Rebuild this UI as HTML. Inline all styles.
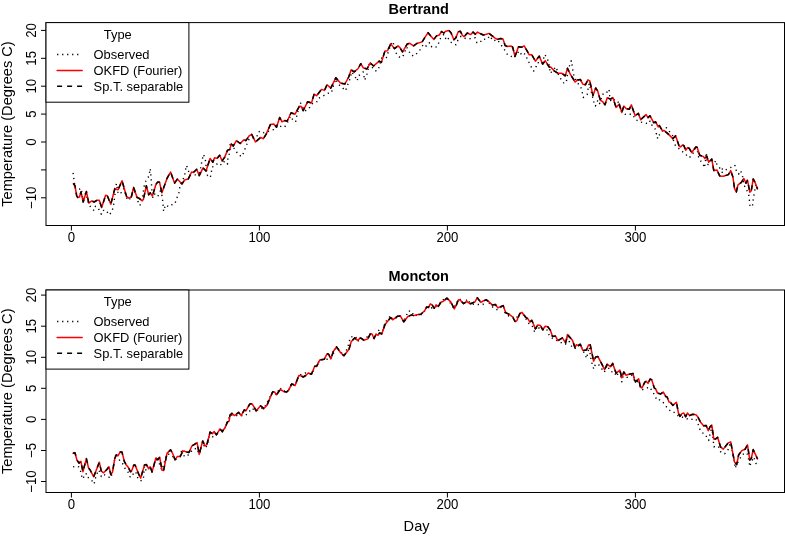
<!DOCTYPE html>
<html><head><meta charset="utf-8"><title>Temperature</title>
<style>
html,body{margin:0;padding:0;background:#fff;}
svg{display:block;font-family:"Liberation Sans",sans-serif;}
.ax{stroke:#000;stroke-width:1;fill:none;stroke-linecap:butt;}
.t{font-size:13.9px;fill:#000;}
.lab{font-size:14.6px;fill:#000;}
.ttl{font-size:14.5px;font-weight:bold;fill:#000;}
.lg{font-size:12.9px;fill:#000;}
.obs{stroke:#000;stroke-width:1.4;fill:none;stroke-dasharray:1.25 3.75;stroke-linecap:butt;stroke-linejoin:round;}
.red{stroke:#f00;stroke-width:1.5;fill:none;stroke-linecap:round;stroke-linejoin:round;}
.sep{stroke:#000;stroke-width:1.5;fill:none;stroke-dasharray:5 5;stroke-linecap:butt;stroke-linejoin:round;}
</style></head><body>
<svg width="785" height="536" viewBox="0 0 785 536">
<rect width="785" height="536" fill="#fff"/>

<g>
<text class="ttl" x="418.7" y="13.5" text-anchor="middle">Bertrand</text>
<path class="obs" d="M73.1 172.9 L73.8 178.7 L74.7 184.7 L76.2 193.0 L78.4 189.9 L81.2 188.3 L82.9 199.8 L85.7 193.0 L88.5 203.1 L90.7 207.4 L94.1 210.6 L95.5 206.2 L98.5 208.7 L101.3 214.3 L103.6 210.4 L106.4 210.4 L108.8 214.9 L111.4 212.6 L113.1 207.6 L113.9 203.1 L114.5 198.1 L116.4 183.5 L118.3 194.2 L121.5 192.5 L123.7 188.6 L127.6 200.3 L131.0 198.1 L133.6 188.6 L137.1 198.1 L139.0 205.3 L141.6 204.2 L143.3 191.9 L144.4 184.7 L146.1 180.2 L148.9 176.2 L150.2 168.6 L150.8 174.3 L151.2 179.4 L151.5 183.9 L151.8 188.9 L152.4 198.5 L154.0 193.4 L157.8 196.6 L160.4 190.9 L162.3 196.6 L162.7 201.1 L163.2 206.5 L163.6 211.2 L165.5 204.9 L168.3 206.5 L170.6 204.6 L173.4 204.9 L175.7 201.7 L177.2 197.2 L178.9 192.8 L179.7 187.7 L180.8 183.2 L184.6 176.2 L185.2 171.1 L186.5 165.4 L188.4 170.5 L189.7 175.6 L192.9 174.9 L196.1 174.9 L199.9 172.4 L201.1 164.7 L202.4 159.6 L203.1 154.6 L205.0 157.1 L205.6 161.6 L206.2 167.3 L207.5 175.6 L210.3 177.5 L211.3 172.4 L212.0 167.3 L215.8 165.1 L218.3 162.8 L221.5 165.1 L224.7 160.9 L227.6 163.9 L227.9 159.0 L229.2 154.2 L230.0 144.8 L232.5 147.3 L235.7 149.6 L237.4 153.7 L241.5 156.6 L243.8 152.4 L245.3 148.0 L247.2 143.5 L249.1 139.0 L252.9 138.4 L256.8 137.1 L258.3 132.0 L260.6 131.0 L263.8 132.7 L268.2 131.4 L273.3 129.7 L277.1 125.0 L281.6 126.7 L284.5 127.2 L287.1 123.4 L290.5 116.1 L293.1 120.3 L295.6 121.8 L296.5 117.0 L298.8 107.8 L300.3 102.5 L304.5 111.0 L308.0 109.7 L310.5 106.3 L312.8 103.4 L316.6 102.4 L317.9 98.7 L328.3 93.2 L331.5 92.7 L332.7 87.9 L335.9 79.0 L337.8 83.8 L341.9 87.2 L345.5 90.8 L347.4 85.6 L349.3 80.9 L351.8 71.9 L355.4 77.4 L357.2 80.9 L358.2 76.2 L363.3 71.9 L364.6 80.2 L366.5 75.8 L367.8 71.1 L369.7 61.4 L373.5 70.0 L376.7 71.1 L378.3 69.4 L379.6 65.2 L382.4 55.8 L384.3 53.5 L386.5 57.6 L387.8 53.5 L390.7 44.6 L392.9 41.4 L395.4 51.2 L397.1 55.0 L400.5 57.9 L403.4 55.4 L406.6 47.1 L408.8 50.7 L410.7 55.0 L414.0 56.0 L417.1 53.2 L420.2 49.6 L422.7 45.5 L425.3 47.4 L427.6 43.2 L430.4 42.7 L431.7 47.0 L434.2 47.4 L436.8 46.8 L438.3 45.2 L439.0 40.4 L443.8 34.3 L445.7 38.5 L447.6 36.6 L449.5 41.4 L453.1 43.6 L456.1 44.8 L457.8 40.4 L461.0 36.3 L463.5 37.8 L467.3 38.9 L472.4 38.5 L475.2 37.8 L476.9 42.7 L479.8 42.7 L482.9 38.9 L486.4 39.7 L490.0 35.9 L492.8 41.0 L494.7 40.4 L497.3 39.7 L505.1 50.6 L507.6 54.8 L510.4 55.5 L513.0 58.0 L515.0 56.1 L519.1 51.0 L521.7 54.8 L523.2 53.2 L526.1 54.8 L527.4 60.3 L530.2 64.1 L531.8 68.5 L533.8 71.0 L536.1 66.7 L537.6 62.5 L542.0 63.8 L544.8 54.5 L547.4 59.0 L549.0 63.4 L550.3 73.3 L553.5 69.5 L556.1 66.9 L558.6 75.2 L561.1 79.4 L563.7 82.9 L566.2 82.9 L566.9 77.8 L568.8 68.2 L570.1 63.8 L571.3 60.6 L572.2 65.9 L572.9 70.8 L573.9 75.6 L576.4 81.0 L581.5 88.6 L582.5 93.4 L583.4 97.5 L587.3 94.3 L587.9 89.9 L589.2 83.5 L593.8 101.7 L595.4 106.1 L597.9 100.1 L599.6 103.6 L602.7 94.3 L606.3 93.8 L608.1 89.2 L609.4 91.2 L609.7 95.9 L611.0 101.7 L614.8 99.4 L618.7 102.7 L621.8 112.5 L625.4 114.4 L628.5 114.1 L632.7 114.4 L635.2 119.2 L639.4 121.8 L644.1 122.7 L648.6 123.9 L650.1 121.0 L652.4 126.1 L655.0 128.7 L656.2 133.5 L658.2 135.8 L657.3 138.6 L660.3 133.2 L663.2 130.3 L666.4 127.8 L669.2 131.2 L672.5 135.4 L673.4 140.1 L675.4 145.6 L685.7 154.3 L689.2 157.8 L692.5 154.6 L696.3 145.4 L698.5 156.6 L701.0 161.4 L703.6 165.5 L704.5 167.8 L705.2 162.9 L706.4 152.7 L707.4 164.2 L709.6 165.5 L713.4 165.5 L715.7 160.4 L717.2 165.5 L720.1 168.3 L722.7 167.4 L721.4 172.9 L724.6 170.3 L731.0 167.4 L733.5 167.4 L735.0 165.5 L736.3 170.6 L738.6 174.1 L740.5 170.6 L742.4 175.0 L743.7 184.8 L746.0 188.2 L748.8 195.4 L749.4 200.1 L749.8 205.2 L752.4 206.9 L752.9 201.8 L753.6 196.7 L754.5 192.0 L756.4 182.0"/>
<path class="red" d="M73.4 183.5 L75.0 185.8 L76.7 195.8 L77.8 197.5 L79.5 197.0 L80.9 191.9 L83.2 202.0 L86.4 191.4 L88.8 203.1 L91.8 200.9 L94.1 202.0 L96.9 200.3 L99.3 200.3 L101.7 207.6 L105.6 195.3 L107.3 195.8 L110.8 204.2 L114.8 188.6 L118.1 189.7 L122.0 180.7 L126.5 196.4 L128.7 198.1 L131.3 197.0 L133.6 187.4 L137.1 197.5 L138.8 198.1 L141.6 200.3 L143.3 199.8 L146.3 185.8 L148.7 194.7 L150.2 192.8 L152.4 196.0 L155.9 184.5 L157.8 181.9 L159.5 182.2 L161.9 192.8 L167.0 178.4 L170.6 172.0 L174.6 183.2 L177.3 179.1 L182.0 183.9 L184.6 180.0 L188.2 179.1 L191.6 172.0 L193.5 172.4 L196.7 169.2 L199.2 175.6 L203.1 167.9 L206.0 171.1 L210.1 158.4 L212.9 162.2 L214.5 157.7 L217.1 158.4 L219.6 155.2 L222.2 160.9 L224.7 157.1 L227.6 150.1 L229.8 149.5 L230.0 148.6 L231.3 144.1 L233.2 146.1 L236.4 140.7 L240.2 143.5 L244.0 139.7 L245.9 140.7 L249.1 135.9 L251.7 134.3 L255.5 142.0 L260.6 137.4 L263.4 138.7 L266.3 133.9 L270.5 124.4 L273.9 124.1 L276.5 127.2 L279.7 117.4 L282.0 121.8 L284.8 120.6 L287.1 121.2 L291.1 112.7 L295.0 114.2 L299.4 106.3 L301.3 106.6 L303.2 110.6 L307.7 101.7 L311.5 103.0 L314.1 94.1 L316.6 95.7 L321.5 89.4 L324.5 90.4 L327.0 84.7 L330.8 88.1 L335.9 77.7 L340.4 83.0 L344.8 84.1 L348.7 77.0 L351.2 69.8 L354.1 71.9 L358.2 68.5 L360.8 63.7 L363.1 67.7 L366.9 69.0 L370.3 63.0 L373.5 66.0 L379.2 61.1 L381.4 62.4 L385.0 50.9 L387.5 50.7 L390.7 43.9 L394.5 48.6 L398.0 45.8 L400.3 48.1 L402.5 51.9 L407.3 43.9 L409.8 43.3 L413.6 45.8 L416.8 43.5 L422.1 41.9 L424.6 37.8 L428.1 32.7 L431.0 36.3 L433.9 39.4 L436.5 35.9 L439.3 35.0 L441.6 31.5 L443.8 33.0 L445.7 31.2 L448.9 30.4 L451.0 32.7 L453.9 39.7 L455.9 37.8 L458.2 31.7 L460.3 31.2 L462.2 35.0 L464.1 36.8 L467.3 33.0 L470.5 34.6 L473.1 32.1 L475.2 34.3 L477.5 32.1 L480.7 33.8 L483.2 35.0 L486.4 34.3 L489.0 33.4 L491.5 35.3 L494.7 37.8 L497.3 39.4 L500.4 38.5 L503.0 38.9 L505.1 45.5 L507.6 46.6 L510.8 45.9 L512.7 47.2 L515.0 56.5 L518.5 46.8 L521.7 47.2 L524.2 45.9 L529.3 54.8 L531.8 54.8 L535.4 61.2 L539.2 56.1 L542.7 64.1 L545.2 60.6 L549.0 66.9 L551.0 67.2 L554.1 70.8 L558.0 73.3 L561.8 73.3 L565.2 75.9 L567.5 68.2 L570.1 73.9 L575.2 82.0 L577.7 79.9 L580.3 79.4 L582.8 84.1 L585.4 84.8 L587.9 79.9 L589.8 81.0 L593.0 95.6 L595.7 87.9 L597.6 90.8 L600.4 100.4 L602.7 101.7 L605.0 104.8 L607.2 97.8 L610.4 99.1 L612.9 97.6 L616.1 107.4 L619.3 104.2 L621.8 112.5 L623.8 106.1 L626.3 108.7 L629.2 109.3 L631.4 104.8 L633.3 110.6 L635.2 115.7 L638.4 113.4 L640.7 119.7 L646.1 114.6 L648.0 117.6 L649.9 115.7 L653.7 122.7 L655.6 121.8 L658.2 126.9 L659.4 125.6 L662.6 131.0 L663.9 130.3 L668.3 134.1 L672.8 138.6 L675.6 135.8 L679.2 146.2 L680.4 146.9 L682.5 145.1 L683.8 145.4 L685.7 150.2 L687.6 147.6 L689.2 148.3 L691.7 152.5 L695.9 147.0 L697.2 147.4 L699.7 155.3 L703.6 156.6 L704.8 158.5 L706.8 156.3 L708.7 162.3 L711.8 159.1 L713.8 170.6 L716.9 169.9 L719.7 175.9 L723.3 176.3 L728.4 174.6 L730.7 170.6 L732.9 176.9 L734.5 188.4 L736.3 192.0 L738.0 184.8 L741.1 182.7 L743.9 178.5 L746.0 183.3 L747.5 180.1 L749.8 192.2 L751.3 190.7 L753.2 178.9 L755.2 182.7 L757.5 189.0"/>
<path class="sep" d="M73.4 183.5 L75.0 185.8 L76.7 195.8 L77.8 197.5 L79.5 197.0 L80.9 191.9 L83.2 202.0 L86.4 191.4 L88.8 203.1 L91.8 200.9 L94.1 202.0 L96.9 200.3 L99.3 200.3 L101.7 207.6 L105.6 195.3 L107.3 195.8 L110.8 204.2 L114.8 188.6 L118.1 189.7 L122.0 180.7 L126.5 196.4 L128.7 198.1 L131.3 197.0 L133.6 187.4 L137.1 197.5 L138.8 198.1 L141.6 200.3 L143.3 199.8 L146.3 185.8 L148.7 194.7 L150.2 192.8 L152.4 196.0 L155.9 184.5 L157.8 181.9 L159.5 182.2 L161.9 192.8 L167.0 178.4 L170.6 172.0 L174.6 183.2 L177.3 179.1 L182.0 183.9 L184.6 180.0 L188.2 179.1 L191.6 172.0 L193.5 172.4 L196.7 169.2 L199.2 175.6 L203.1 167.9 L206.0 171.1 L210.1 158.4 L212.9 162.2 L214.5 157.7 L217.1 158.4 L219.6 155.2 L222.2 160.9 L224.7 157.1 L227.6 150.1 L229.8 149.5 L230.0 148.6 L231.3 144.1 L233.2 146.1 L236.4 140.7 L240.2 143.5 L244.0 139.7 L245.9 140.7 L249.1 135.9 L251.7 134.3 L255.5 142.0 L260.6 137.4 L263.4 138.7 L266.3 133.9 L270.5 124.4 L273.9 124.1 L276.5 127.2 L279.7 117.4 L282.0 121.8 L284.8 120.6 L287.1 121.2 L291.1 112.7 L295.0 114.2 L299.4 106.3 L301.3 106.6 L303.2 110.6 L307.7 101.7 L311.5 103.0 L314.1 94.1 L316.6 95.7 L321.5 89.4 L324.5 90.4 L327.0 84.7 L330.8 88.1 L335.9 77.7 L340.4 83.0 L344.8 84.1 L348.7 77.0 L351.2 69.8 L354.1 71.9 L358.2 68.5 L360.8 63.7 L363.1 67.7 L366.9 69.0 L370.3 63.0 L373.5 66.0 L379.2 61.1 L381.4 62.4 L385.0 50.9 L387.5 50.7 L390.7 43.9 L394.5 48.6 L398.0 45.8 L400.3 48.1 L402.5 51.9 L407.3 43.9 L409.8 43.3 L413.6 45.8 L416.8 43.5 L422.1 41.9 L424.6 37.8 L428.1 32.7 L431.0 36.3 L433.9 39.4 L436.5 35.9 L439.3 35.0 L441.6 31.5 L443.8 33.0 L445.7 31.2 L448.9 30.4 L451.0 32.7 L453.9 39.7 L455.9 37.8 L458.2 31.7 L460.3 31.2 L462.2 35.0 L464.1 36.8 L467.3 33.0 L470.5 34.6 L473.1 32.1 L475.2 34.3 L477.5 32.1 L480.7 33.8 L483.2 35.0 L486.4 34.3 L489.0 33.4 L491.5 35.3 L494.7 37.8 L497.3 39.4 L500.4 38.5 L503.0 38.9 L505.1 45.5 L507.6 46.6 L510.8 45.9 L512.7 47.2 L515.0 56.5 L518.5 46.8 L521.7 47.2 L524.2 45.9 L529.3 54.8 L531.8 54.8 L535.4 61.2 L539.2 56.1 L542.7 64.1 L545.2 60.6 L549.0 66.9 L551.0 67.2 L554.1 70.8 L558.0 73.3 L561.8 73.3 L565.2 75.9 L567.5 68.2 L570.1 73.9 L575.2 82.0 L577.7 79.9 L580.3 79.4 L582.8 84.1 L585.4 84.8 L587.9 79.9 L589.8 81.0 L593.0 95.6 L595.7 87.9 L597.6 90.8 L600.4 100.4 L602.7 101.7 L605.0 104.8 L607.2 97.8 L610.4 99.1 L612.9 97.6 L616.1 107.4 L619.3 104.2 L621.8 112.5 L623.8 106.1 L626.3 108.7 L629.2 109.3 L631.4 104.8 L633.3 110.6 L635.2 115.7 L638.4 113.4 L640.7 119.7 L646.1 114.6 L648.0 117.6 L649.9 115.7 L653.7 122.7 L655.6 121.8 L658.2 126.9 L659.4 125.6 L662.6 131.0 L663.9 130.3 L668.3 134.1 L672.8 138.6 L675.6 135.8 L679.2 146.2 L680.4 146.9 L682.5 145.1 L683.8 145.4 L685.7 150.2 L687.6 147.6 L689.2 148.3 L691.7 152.5 L695.9 147.0 L697.2 147.4 L699.7 155.3 L703.6 156.6 L704.8 158.5 L706.8 156.3 L708.7 162.3 L711.8 159.1 L713.8 170.6 L716.9 169.9 L719.7 175.9 L723.3 176.3 L728.4 174.6 L730.7 170.6 L732.9 176.9 L734.5 188.4 L736.3 192.0 L738.0 184.8 L741.1 182.7 L743.9 178.5 L746.0 183.3 L747.5 180.1 L749.8 192.2 L751.3 190.7 L753.2 178.9 L755.2 182.7 L757.5 189.0"/>
<rect class="ax" x="46.0" y="22.6" width="738.5" height="202.9"/>
<text class="t" transform="translate(71.4 241.5) scale(0.95 1)" text-anchor="middle">0</text>
<text class="t" transform="translate(259.4 241.5) scale(0.95 1)" text-anchor="middle">100</text>
<text class="t" transform="translate(447.4 241.5) scale(0.95 1)" text-anchor="middle">200</text>
<text class="t" transform="translate(635.4 241.5) scale(0.95 1)" text-anchor="middle">300</text>
<path class="ax" d="M71.4 225.5 v5 M259.4 225.5 v5 M447.4 225.5 v5 M635.4 225.5 v5 M46.0 30.4 h-5 M46.0 58.3 h-5 M46.0 86.2 h-5 M46.0 114.1 h-5 M46.0 142.0 h-5 M46.0 169.9 h-5 M46.0 197.8 h-5 "/>
<text class="t" transform="translate(35.5 30.4) rotate(-90) scale(0.95 1)" text-anchor="middle">20</text>
<text class="t" transform="translate(35.5 58.3) rotate(-90) scale(0.95 1)" text-anchor="middle">15</text>
<text class="t" transform="translate(35.5 86.2) rotate(-90) scale(0.95 1)" text-anchor="middle">10</text>
<text class="t" transform="translate(35.5 114.1) rotate(-90) scale(0.95 1)" text-anchor="middle">5</text>
<text class="t" transform="translate(35.5 142.0) rotate(-90) scale(0.95 1)" text-anchor="middle">0</text>
<text class="t" transform="translate(35.5 197.8) rotate(-90) scale(0.95 1)" text-anchor="middle">−10</text>
<text class="lab" transform="translate(12.4 124.0) rotate(-90)" text-anchor="middle">Temperature (Degrees C)</text>
<rect x="46.0" y="22.6" width="142.9" height="79.6" fill="#fff" stroke="#000" stroke-width="1"/>
<text class="lg" x="117.8" y="38.8" text-anchor="middle">Type</text>
<path class="obs" d="M57.1 54.5 H80.5"/>
<text class="lg" x="93.6" y="59.3">Observed</text>
<path class="red" d="M57.1 70.4 H82.2"/>
<text class="lg" x="93.6" y="75.2">OKFD (Fourier)</text>
<path class="sep" d="M57.1 86.3 H82.2"/>
<text class="lg" x="93.6" y="91.1">Sp.T. separable</text>
</g>
<g>
<text class="ttl" x="418.7" y="280.9" text-anchor="middle">Moncton</text>
<path class="obs" d="M73.1 466.9 L76.2 466.1 L78.7 466.9 L80.6 471.2 L81.7 476.2 L83.2 479.0 L84.3 474.3 L87.0 473.6 L88.5 477.9 L92.4 481.2 L94.1 484.0 L95.2 479.0 L96.9 474.0 L98.9 470.0 L101.3 476.5 L103.3 474.3 L110.8 478.1 L112.0 473.4 L114.8 458.9 L116.1 453.3 L118.1 456.1 L119.8 460.9 L122.6 463.6 L124.8 468.0 L128.0 472.1 L129.9 476.8 L132.1 476.8 L134.0 471.7 L136.0 472.8 L137.7 477.7 L140.5 481.0 L143.3 479.6 L144.5 466.1 L146.1 470.6 L148.3 468.1 L152.1 471.9 L155.9 458.5 L159.1 463.0 L161.9 470.0 L167.0 454.0 L170.3 454.4 L172.9 456.6 L175.0 459.8 L180.1 456.6 L182.0 448.9 L184.3 456.6 L188.4 454.9 L192.9 449.3 L196.7 448.3 L199.2 454.4 L202.7 441.9 L205.0 448.3 L207.3 445.5 L210.1 432.4 L212.6 436.8 L216.4 434.9 L220.0 429.2 L222.2 432.0 L225.1 427.7 L230.0 415.0 L234.5 415.6 L241.2 415.6 L245.3 415.6 L248.9 412.2 L251.7 408.3 L256.1 410.9 L260.6 408.3 L263.8 408.6 L272.7 391.8 L276.5 394.8 L279.7 387.6 L283.5 391.4 L288.6 390.1 L291.8 382.5 L295.0 385.7 L298.8 375.5 L305.2 372.9 L311.5 374.2 L319.8 359.9 L330.8 358.9 L336.6 346.8 L343.9 355.7 L348.0 346.8 L350.3 337.2 L353.4 336.3 L355.7 336.6 L356.9 341.0 L363.9 340.2 L370.3 333.8 L374.1 338.5 L376.7 333.4 L379.2 329.6 L381.8 334.0 L385.0 322.6 L390.7 315.6 L392.6 319.8 L400.3 315.9 L403.8 321.9 L406.6 314.9 L408.5 310.9 L412.0 311.4 L413.6 315.9 L422.7 314.3 L426.6 307.0 L434.2 308.3 L441.2 301.9 L444.4 298.7 L446.9 298.1 L454.3 308.9 L454.8 304.9 L459.7 298.7 L463.5 303.6 L467.6 299.0 L470.5 303.8 L475.0 304.5 L478.8 304.5 L482.9 304.5 L486.4 299.8 L493.4 307.9 L497.6 309.9 L503.2 305.6 L505.1 313.2 L508.9 316.1 L512.7 317.0 L515.9 318.7 L519.1 313.8 L521.9 312.3 L529.3 324.3 L532.5 326.6 L534.6 331.9 L537.6 325.9 L539.5 328.9 L542.7 329.8 L546.5 328.5 L548.2 333.6 L551.0 337.4 L554.1 339.3 L558.6 341.2 L562.4 343.4 L565.6 344.2 L567.5 335.5 L569.4 341.9 L571.6 346.3 L574.5 348.9 L580.3 344.4 L582.8 350.5 L585.4 355.2 L586.6 358.4 L587.6 353.6 L589.2 347.0 L590.4 355.2 L591.1 360.3 L593.8 369.1 L595.4 364.3 L598.7 364.6 L604.3 372.3 L607.2 365.3 L610.4 371.4 L614.8 372.3 L616.1 376.5 L619.9 371.0 L621.8 381.8 L623.8 372.9 L626.9 377.4 L630.8 376.1 L633.1 374.2 L636.1 384.1 L638.7 379.3 L641.6 390.1 L646.1 388.2 L649.9 387.2 L652.2 391.4 L655.0 395.6 L656.9 400.3 L659.8 399.9 L662.6 401.6 L664.9 405.0 L668.0 408.6 L671.8 412.2 L674.1 412.4 L678.5 416.2 L680.0 416.4 L685.7 418.1 L688.9 419.8 L691.2 419.4 L695.9 419.0 L697.8 423.2 L699.4 428.3 L701.4 432.1 L705.5 434.7 L707.4 438.5 L708.7 440.4 L709.6 435.9 L710.6 432.1 L711.8 426.4 L713.4 441.9 L713.8 446.8 L716.3 446.1 L718.5 446.5 L720.5 451.6 L722.7 453.1 L724.6 453.8 L727.8 450.6 L729.0 446.1 L730.7 442.9 L734.8 463.3 L735.0 468.4 L738.6 460.8 L742.4 454.4 L746.9 452.9 L749.4 462.1 L749.4 466.5 L751.6 462.1 L753.6 457.0 L755.8 462.1 L756.7 467.4"/>
<path class="red" d="M73.1 453.3 L75.0 452.7 L76.9 460.0 L79.0 463.1 L80.9 461.3 L82.9 471.7 L86.4 458.6 L88.5 467.8 L90.1 470.0 L93.7 476.8 L99.3 462.2 L101.3 471.2 L103.6 472.8 L106.9 469.5 L108.9 466.7 L110.8 474.5 L112.5 472.1 L114.8 458.3 L116.4 454.9 L118.1 455.7 L120.1 452.1 L122.0 452.1 L124.3 461.3 L125.9 464.4 L128.2 467.2 L130.4 471.7 L131.5 471.2 L133.8 465.0 L135.1 465.0 L138.5 473.6 L140.7 478.1 L144.5 464.9 L146.4 464.6 L148.3 468.1 L150.2 466.8 L152.1 471.9 L155.9 457.9 L157.8 459.8 L159.7 457.2 L161.9 470.0 L163.6 470.6 L167.0 453.4 L170.6 449.8 L172.9 454.0 L175.0 459.8 L177.2 456.6 L180.1 456.6 L182.7 451.5 L184.6 451.1 L186.5 452.1 L189.0 452.4 L192.0 445.8 L194.1 444.7 L197.1 442.6 L199.2 454.4 L202.7 440.9 L205.0 446.0 L206.9 444.5 L210.1 432.0 L212.4 433.7 L214.1 431.5 L216.4 434.9 L220.0 428.9 L222.2 431.5 L225.1 427.7 L227.3 422.2 L229.2 420.9 L230.0 415.0 L231.9 413.4 L234.5 415.6 L238.7 412.4 L241.2 415.6 L244.3 409.9 L245.9 410.9 L249.7 404.1 L251.9 403.8 L253.6 406.1 L256.1 410.9 L260.6 405.8 L263.8 408.6 L266.9 405.4 L272.7 391.8 L274.6 392.0 L276.5 394.8 L280.3 389.5 L283.5 391.4 L286.7 392.0 L288.6 390.1 L291.8 383.8 L295.0 385.7 L298.8 375.5 L300.7 375.7 L303.2 377.0 L305.8 375.5 L308.3 372.9 L311.5 374.2 L314.7 366.3 L316.9 365.9 L319.8 359.9 L324.3 359.2 L327.0 353.8 L328.7 354.2 L330.8 358.9 L333.4 351.2 L336.6 346.8 L340.4 352.5 L343.9 355.7 L349.0 349.3 L351.2 341.7 L354.6 337.9 L357.6 340.4 L360.5 337.9 L363.9 340.2 L367.8 338.9 L370.3 333.8 L372.0 334.0 L374.1 338.5 L376.1 334.0 L378.0 335.3 L379.6 332.8 L381.8 334.0 L385.0 324.5 L390.7 317.5 L392.6 319.8 L397.7 316.2 L400.3 315.9 L403.8 321.9 L407.9 316.5 L411.7 314.9 L413.6 315.6 L416.8 314.7 L420.8 314.3 L424.6 310.8 L426.6 307.0 L428.5 307.4 L430.4 303.8 L432.3 305.1 L434.2 308.3 L436.1 304.9 L438.3 306.4 L441.2 301.9 L443.1 301.5 L446.9 298.1 L450.8 301.9 L454.3 308.9 L456.1 305.7 L458.4 299.8 L460.3 300.3 L463.5 303.6 L466.7 301.5 L470.5 303.8 L475.0 301.9 L477.3 297.7 L480.7 302.3 L483.2 301.0 L486.4 299.8 L489.0 301.9 L492.2 304.9 L495.4 304.5 L497.9 307.9 L501.1 306.4 L503.2 305.6 L505.7 312.8 L508.9 314.1 L512.7 317.0 L515.0 321.5 L516.8 320.8 L519.7 313.8 L521.9 312.3 L525.5 317.0 L528.0 318.9 L529.9 322.1 L531.8 320.2 L535.4 328.9 L537.6 325.0 L540.5 325.6 L542.7 329.8 L545.2 326.3 L547.8 326.8 L550.3 330.1 L552.5 336.5 L555.4 336.1 L558.0 340.6 L562.4 337.8 L565.6 342.9 L567.5 334.5 L572.6 340.6 L574.9 347.6 L576.4 344.7 L578.3 345.7 L580.3 344.2 L582.8 350.5 L586.4 350.1 L588.5 345.0 L590.2 344.7 L593.6 361.2 L595.7 357.0 L597.9 356.6 L601.5 363.4 L604.6 369.7 L607.2 364.0 L610.4 366.8 L612.7 363.4 L616.1 373.2 L619.9 370.1 L621.8 377.8 L623.8 371.9 L625.9 375.2 L628.9 374.2 L633.1 373.6 L634.6 380.6 L636.1 381.2 L638.7 378.7 L640.3 386.9 L642.0 388.0 L644.8 382.1 L646.3 381.2 L648.0 383.4 L650.1 379.0 L651.8 379.9 L654.3 388.0 L655.6 388.9 L657.5 393.1 L660.7 393.9 L663.2 392.0 L665.8 396.5 L667.1 396.9 L669.0 402.0 L670.3 402.2 L672.8 405.4 L676.4 402.2 L678.5 413.4 L680.0 416.4 L681.9 413.6 L683.8 413.0 L685.7 416.8 L687.4 413.0 L689.6 415.6 L692.7 414.3 L695.9 414.7 L697.8 416.8 L700.4 421.9 L703.6 425.7 L706.1 425.4 L708.3 430.8 L709.9 427.0 L711.8 425.1 L713.8 439.1 L715.7 438.9 L717.6 437.2 L720.5 446.8 L723.3 449.1 L728.2 442.9 L730.7 441.9 L734.5 462.1 L736.7 464.6 L738.6 455.0 L741.8 450.6 L745.0 449.3 L747.5 444.9 L749.8 460.1 L751.3 458.5 L753.2 449.6 L757.5 458.9"/>
<path class="sep" d="M73.1 453.3 L75.0 452.7 L76.9 460.0 L79.0 463.1 L80.9 461.3 L82.9 471.7 L86.4 458.6 L88.5 467.8 L90.1 470.0 L93.7 476.8 L99.3 462.2 L101.3 471.2 L103.6 472.8 L106.9 469.5 L108.9 466.7 L110.8 474.5 L112.5 472.1 L114.8 458.3 L116.4 454.9 L118.1 455.7 L120.1 452.1 L122.0 452.1 L124.3 461.3 L125.9 464.4 L128.2 467.2 L130.4 471.7 L131.5 471.2 L133.8 465.0 L135.1 465.0 L138.5 473.6 L140.7 478.1 L144.5 464.9 L146.4 464.6 L148.3 468.1 L150.2 466.8 L152.1 471.9 L155.9 457.9 L157.8 459.8 L159.7 457.2 L161.9 470.0 L163.6 470.6 L167.0 453.4 L170.6 449.8 L172.9 454.0 L175.0 459.8 L177.2 456.6 L180.1 456.6 L182.7 451.5 L184.6 451.1 L186.5 452.1 L189.0 452.4 L192.0 445.8 L194.1 444.7 L197.1 442.6 L199.2 454.4 L202.7 440.9 L205.0 446.0 L206.9 444.5 L210.1 432.0 L212.4 433.7 L214.1 431.5 L216.4 434.9 L220.0 428.9 L222.2 431.5 L225.1 427.7 L227.3 422.2 L229.2 420.9 L230.0 415.0 L231.9 413.4 L234.5 415.6 L238.7 412.4 L241.2 415.6 L244.3 409.9 L245.9 410.9 L249.7 404.1 L251.9 403.8 L253.6 406.1 L256.1 410.9 L260.6 405.8 L263.8 408.6 L266.9 405.4 L272.7 391.8 L274.6 392.0 L276.5 394.8 L280.3 389.5 L283.5 391.4 L286.7 392.0 L288.6 390.1 L291.8 383.8 L295.0 385.7 L298.8 375.5 L300.7 375.7 L303.2 377.0 L305.8 375.5 L308.3 372.9 L311.5 374.2 L314.7 366.3 L316.9 365.9 L319.8 359.9 L324.3 359.2 L327.0 353.8 L328.7 354.2 L330.8 358.9 L333.4 351.2 L336.6 346.8 L340.4 352.5 L343.9 355.7 L349.0 349.3 L351.2 341.7 L354.6 337.9 L357.6 340.4 L360.5 337.9 L363.9 340.2 L367.8 338.9 L370.3 333.8 L372.0 334.0 L374.1 338.5 L376.1 334.0 L378.0 335.3 L379.6 332.8 L381.8 334.0 L385.0 324.5 L390.7 317.5 L392.6 319.8 L397.7 316.2 L400.3 315.9 L403.8 321.9 L407.9 316.5 L411.7 314.9 L413.6 315.6 L416.8 314.7 L420.8 314.3 L424.6 310.8 L426.6 307.0 L428.5 307.4 L430.4 303.8 L432.3 305.1 L434.2 308.3 L436.1 304.9 L438.3 306.4 L441.2 301.9 L443.1 301.5 L446.9 298.1 L450.8 301.9 L454.3 308.9 L456.1 305.7 L458.4 299.8 L460.3 300.3 L463.5 303.6 L466.7 301.5 L470.5 303.8 L475.0 301.9 L477.3 297.7 L480.7 302.3 L483.2 301.0 L486.4 299.8 L489.0 301.9 L492.2 304.9 L495.4 304.5 L497.9 307.9 L501.1 306.4 L503.2 305.6 L505.7 312.8 L508.9 314.1 L512.7 317.0 L515.0 321.5 L516.8 320.8 L519.7 313.8 L521.9 312.3 L525.5 317.0 L528.0 318.9 L529.9 322.1 L531.8 320.2 L535.4 328.9 L537.6 325.0 L540.5 325.6 L542.7 329.8 L545.2 326.3 L547.8 326.8 L550.3 330.1 L552.5 336.5 L555.4 336.1 L558.0 340.6 L562.4 337.8 L565.6 342.9 L567.5 334.5 L572.6 340.6 L574.9 347.6 L576.4 344.7 L578.3 345.7 L580.3 344.2 L582.8 350.5 L586.4 350.1 L588.5 345.0 L590.2 344.7 L593.6 361.2 L595.7 357.0 L597.9 356.6 L601.5 363.4 L604.6 369.7 L607.2 364.0 L610.4 366.8 L612.7 363.4 L616.1 373.2 L619.9 370.1 L621.8 377.8 L623.8 371.9 L625.9 375.2 L628.9 374.2 L633.1 373.6 L634.6 380.6 L636.1 381.2 L638.7 378.7 L640.3 386.9 L642.0 388.0 L644.8 382.1 L646.3 381.2 L648.0 383.4 L650.1 379.0 L651.8 379.9 L654.3 388.0 L655.6 388.9 L657.5 393.1 L660.7 393.9 L663.2 392.0 L665.8 396.5 L667.1 396.9 L669.0 402.0 L670.3 402.2 L672.8 405.4 L676.4 402.2 L678.5 413.4 L680.0 416.4 L681.9 413.6 L683.8 413.0 L685.7 416.8 L687.4 413.0 L689.6 415.6 L692.7 414.3 L695.9 414.7 L697.8 416.8 L700.4 421.9 L703.6 425.7 L706.1 425.4 L708.3 430.8 L709.9 427.0 L711.8 425.1 L713.8 439.1 L715.7 438.9 L717.6 437.2 L720.5 446.8 L723.3 449.1 L728.2 442.9 L730.7 441.9 L734.5 462.1 L736.7 464.6 L738.6 455.0 L741.8 450.6 L745.0 449.3 L747.5 444.9 L749.8 460.1 L751.3 458.5 L753.2 449.6 L757.5 458.9"/>
<rect class="ax" x="46.0" y="290.0" width="738.5" height="202.5"/>
<text class="t" transform="translate(71.4 508.5) scale(0.95 1)" text-anchor="middle">0</text>
<text class="t" transform="translate(259.4 508.5) scale(0.95 1)" text-anchor="middle">100</text>
<text class="t" transform="translate(447.4 508.5) scale(0.95 1)" text-anchor="middle">200</text>
<text class="t" transform="translate(635.4 508.5) scale(0.95 1)" text-anchor="middle">300</text>
<path class="ax" d="M71.4 492.5 v5 M259.4 492.5 v5 M447.4 492.5 v5 M635.4 492.5 v5 M46.0 295.1 h-5 M46.0 326.2 h-5 M46.0 357.3 h-5 M46.0 388.3 h-5 M46.0 419.4 h-5 M46.0 450.5 h-5 M46.0 481.5 h-5 "/>
<text class="t" transform="translate(35.5 295.1) rotate(-90) scale(0.95 1)" text-anchor="middle">20</text>
<text class="t" transform="translate(35.5 326.2) rotate(-90) scale(0.95 1)" text-anchor="middle">15</text>
<text class="t" transform="translate(35.5 357.3) rotate(-90) scale(0.95 1)" text-anchor="middle">10</text>
<text class="t" transform="translate(35.5 388.3) rotate(-90) scale(0.95 1)" text-anchor="middle">5</text>
<text class="t" transform="translate(35.5 419.4) rotate(-90) scale(0.95 1)" text-anchor="middle">0</text>
<text class="t" transform="translate(35.5 450.5) rotate(-90) scale(0.95 1)" text-anchor="middle">−5</text>
<text class="t" transform="translate(35.5 481.5) rotate(-90) scale(0.95 1)" text-anchor="middle">−10</text>
<text class="lab" transform="translate(12.4 391.2) rotate(-90)" text-anchor="middle">Temperature (Degrees C)</text>
<rect x="46.0" y="290.0" width="142.9" height="79.1" fill="#fff" stroke="#000" stroke-width="1"/>
<text class="lg" x="117.8" y="306.2" text-anchor="middle">Type</text>
<path class="obs" d="M57.1 321.5 H80.5"/>
<text class="lg" x="93.6" y="326.3">Observed</text>
<path class="red" d="M57.1 337.4 H82.2"/>
<text class="lg" x="93.6" y="342.2">OKFD (Fourier)</text>
<path class="sep" d="M57.1 353.3 H82.2"/>
<text class="lg" x="93.6" y="358.1">Sp.T. separable</text>
</g>
<text class="lab" x="416.6" y="530.6" text-anchor="middle">Day</text>
</svg></body></html>
